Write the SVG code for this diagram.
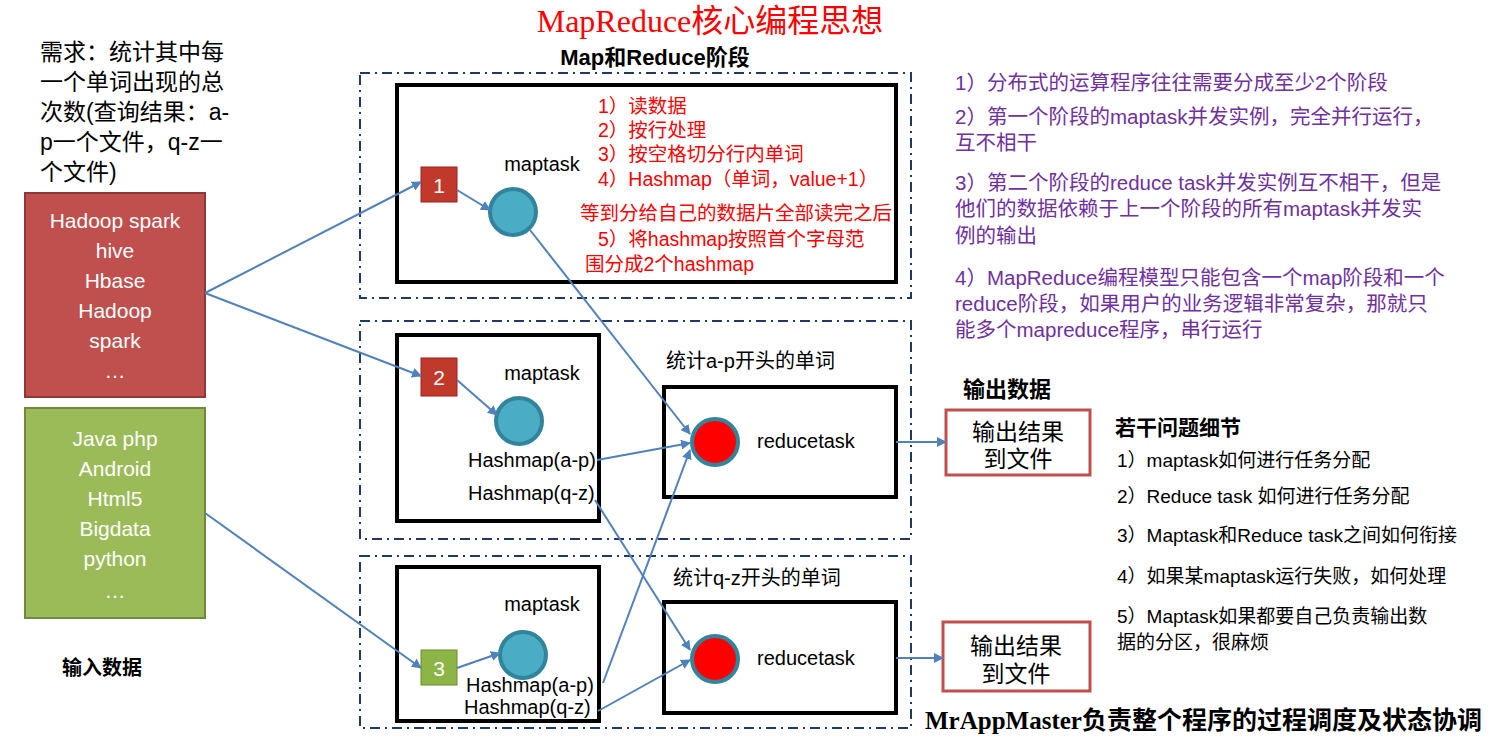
<svg xmlns="http://www.w3.org/2000/svg" width="1504" height="744" viewBox="0 0 1504 744">
<style>
text{font-family:"Liberation Sans","Noto Sans CJK SC",sans-serif}
.t{font-size:20px}
.w{fill:#fff;font-size:21px;text-anchor:middle}
.r{fill:#f00;font-size:19.5px}
.p{fill:#7030A0;font-size:20.5px}
.q{font-size:19px}
.b{font-weight:bold}
.grp{fill:none;stroke:#1F3864;stroke-width:2;stroke-dasharray:10 5 2 5}
.box{fill:#fff;stroke:#000;stroke-width:4}
.mc{fill:#4BACC6;stroke:#31849B;stroke-width:4}
.rc{fill:#f00;stroke:#31849B;stroke-width:4}
.out{fill:#fff;stroke:#C0504D;stroke-width:3}
.c line{stroke:#4F81BD;stroke-width:2;marker-end:url(#a)}
</style>
<defs><marker id="a" markerWidth="10" markerHeight="10" refX="9" refY="5" orient="auto" markerUnits="userSpaceOnUse"><path d="M0,0 L10,5 L0,10 z" fill="#4F81BD"/></marker></defs>
<rect width="1504" height="744" fill="#fff"/>
<text x="710" y="32" font-size="32" fill="#f00" text-anchor="middle" style="font-family:'Liberation Serif','Noto Sans CJK SC',serif">MapReduce核心编程思想</text>
<text x="655" y="65" font-size="22" class="b" text-anchor="middle">Map和Reduce阶段</text>
<g id="req" font-size="23"><text x="40" y="60">需求：统计其中每</text><text x="40" y="90">一个单词出现的总</text><text x="40" y="120">次数(查询结果：a-</text><text x="40" y="150">p一个文件，q-z一</text><text x="40" y="180">个文件)</text></g>
<g id="in1"><rect x="25" y="193" width="180" height="204" fill="#C0504D" stroke="#8C3836" stroke-width="2"/><text class="w" x="115" y="228">Hadoop spark</text><text class="w" x="115" y="258">hive</text><text class="w" x="115" y="288">Hbase</text><text class="w" x="115" y="318">Hadoop</text><text class="w" x="115" y="348">spark</text><text class="w" x="115" y="378">…</text></g>
<g id="in2"><rect x="25" y="408" width="180" height="210" fill="#9BBB59" stroke="#71893F" stroke-width="2"/><text class="w" x="115" y="446">Java php</text><text class="w" x="115" y="476">Android</text><text class="w" x="115" y="506">Html5</text><text class="w" x="115" y="536">Bigdata</text><text class="w" x="115" y="566">python</text><text class="w" x="115" y="598">…</text></g>
<text x="62" y="675" class="t b">输入数据</text>
<g id="g1"><rect class="grp" x="360" y="73" width="551" height="225"/><rect class="box" x="397" y="85" width="499" height="197"/>
<rect x="421" y="167" width="36" height="35" fill="#C0392B" stroke="#922" /><text x="439" y="193" class="w" font-size="22">1</text>
<text x="542" y="171" class="t" text-anchor="middle">maptask</text><circle class="mc" cx="513" cy="212" r="23"/>
<text class="r" x="598" y="113">1）读数据</text><text class="r" x="598" y="137">2）按行处理</text><text class="r" x="598" y="161">3）按空格切分行内单词</text><text class="r" x="598" y="186">4）Hashmap（单词，value+1）</text><text class="r" x="580" y="220" font-size="17.5">等到分给自己的数据片全部读完之后</text><text class="r" x="598" y="246">5）将hashmap按照首个字母范</text><text class="r" x="585" y="271">围分成2个hashmap</text></g>
<g id="g2"><rect class="grp" x="360" y="321" width="551" height="218"/><rect class="box" x="397" y="335" width="202" height="186"/>
<rect x="421" y="358" width="36" height="38" fill="#C0392B" stroke="#922"/><text x="439" y="385" class="w" font-size="22">2</text>
<text x="542" y="380" class="t" text-anchor="middle">maptask</text><circle class="mc" cx="519" cy="421" r="23"/>
<text x="468" y="467" class="t">Hashmap(a-p)</text><text x="468" y="500" class="t">Hashmap(q-z)</text>
<text x="666" y="368" font-size="20">统计a-p开头的单词</text>
<rect class="box" x="664" y="387" width="232" height="110"/><circle class="rc" cx="715" cy="442" r="23"/><text x="757" y="448" class="t">reducetask</text></g>
<g id="g3"><rect class="grp" x="360" y="556" width="551" height="172"/><rect class="box" x="397" y="567" width="202" height="154"/>
<rect x="421" y="650" width="36" height="35" fill="#8DB545" stroke="#6A8A30"/><text x="439" y="676" class="w" font-size="22">3</text>
<text x="542" y="611" class="t" text-anchor="middle">maptask</text><circle class="mc" cx="523" cy="655" r="23"/>
<text x="466" y="692" class="t">Hashmap(a-p)</text><text x="464" y="714" class="t">Hashmap(q-z)</text>
<text x="673" y="585" font-size="20">统计q-z开头的单词</text>
<rect class="box" x="664" y="602" width="232" height="111"/><circle class="rc" cx="715" cy="659" r="23"/><text x="757" y="665" class="t">reducetask</text></g>
<text x="963" y="397" font-size="22" class="b">输出数据</text>
<g id="o1"><rect class="out" x="946" y="410" width="144" height="65"/><text x="1018" y="440" font-size="23" text-anchor="middle">输出结果</text><text x="1018" y="467" font-size="23" text-anchor="middle">到文件</text></g>
<g id="o2"><rect class="out" x="943" y="622" width="147" height="69"/><text x="1016" y="654" font-size="23" text-anchor="middle">输出结果</text><text x="1016" y="682" font-size="23" text-anchor="middle">到文件</text></g>
<g id="notes"><text class="p" x="955" y="90">1）分布式的运算程序往往需要分成至少2个阶段</text><text class="p" x="955" y="124">2）第一个阶段的maptask并发实例，完全并行运行，</text><text class="p" x="955" y="150">互不相干</text><text class="p" x="955" y="190">3）第二个阶段的reduce task并发实例互不相干，但是</text><text class="p" x="955" y="216">他们的数据依赖于上一个阶段的所有maptask并发实</text><text class="p" x="955" y="243">例的输出</text><text class="p" x="955" y="285">4）MapReduce编程模型只能包含一个map阶段和一个</text><text class="p" x="955" y="311">reduce阶段，如果用户的业务逻辑非常复杂，那就只</text><text class="p" x="955" y="337">能多个mapreduce程序，串行运行</text></g>
<g id="q"><text x="1115" y="435" font-size="21" class="b">若干问题细节</text><text class="q" x="1117" y="467">1）maptask如何进行任务分配</text><text class="q" x="1117" y="503">2）Reduce task 如何进行任务分配</text><text class="q" x="1117" y="542">3）Maptask和Reduce task之间如何衔接</text><text class="q" x="1117" y="583">4）如果某maptask运行失败，如何处理</text><text class="q" x="1117" y="623">5）Maptask如果都要自己负责输出数</text><text class="q" x="1117" y="649">据的分区，很麻烦</text></g>
<text x="925" y="729" font-size="25" font-weight="bold" style="font-family:'Liberation Serif','Noto Sans CJK SC',serif">MrAppMaster负责整个程序的过程调度及状态协调</text>
<g class="c" id="connectors">
<line x1="205" y1="293" x2="421" y2="182"/><line x1="205" y1="293" x2="421" y2="376"/><line x1="205" y1="513" x2="421" y2="668"/>
<line x1="457" y1="190" x2="490" y2="210"/><line x1="457" y1="380" x2="497" y2="415"/><line x1="457" y1="668" x2="500" y2="653"/>
<line x1="530" y1="230" x2="690" y2="434"/><line x1="597" y1="460" x2="690" y2="443"/><line x1="595" y1="500" x2="690" y2="650"/>
<line x1="603" y1="683" x2="690" y2="450"/><line x1="598" y1="711" x2="690" y2="660"/>
<line x1="896" y1="442" x2="946" y2="442"/><line x1="896" y1="658" x2="943" y2="658"/>
</g>
</svg>
